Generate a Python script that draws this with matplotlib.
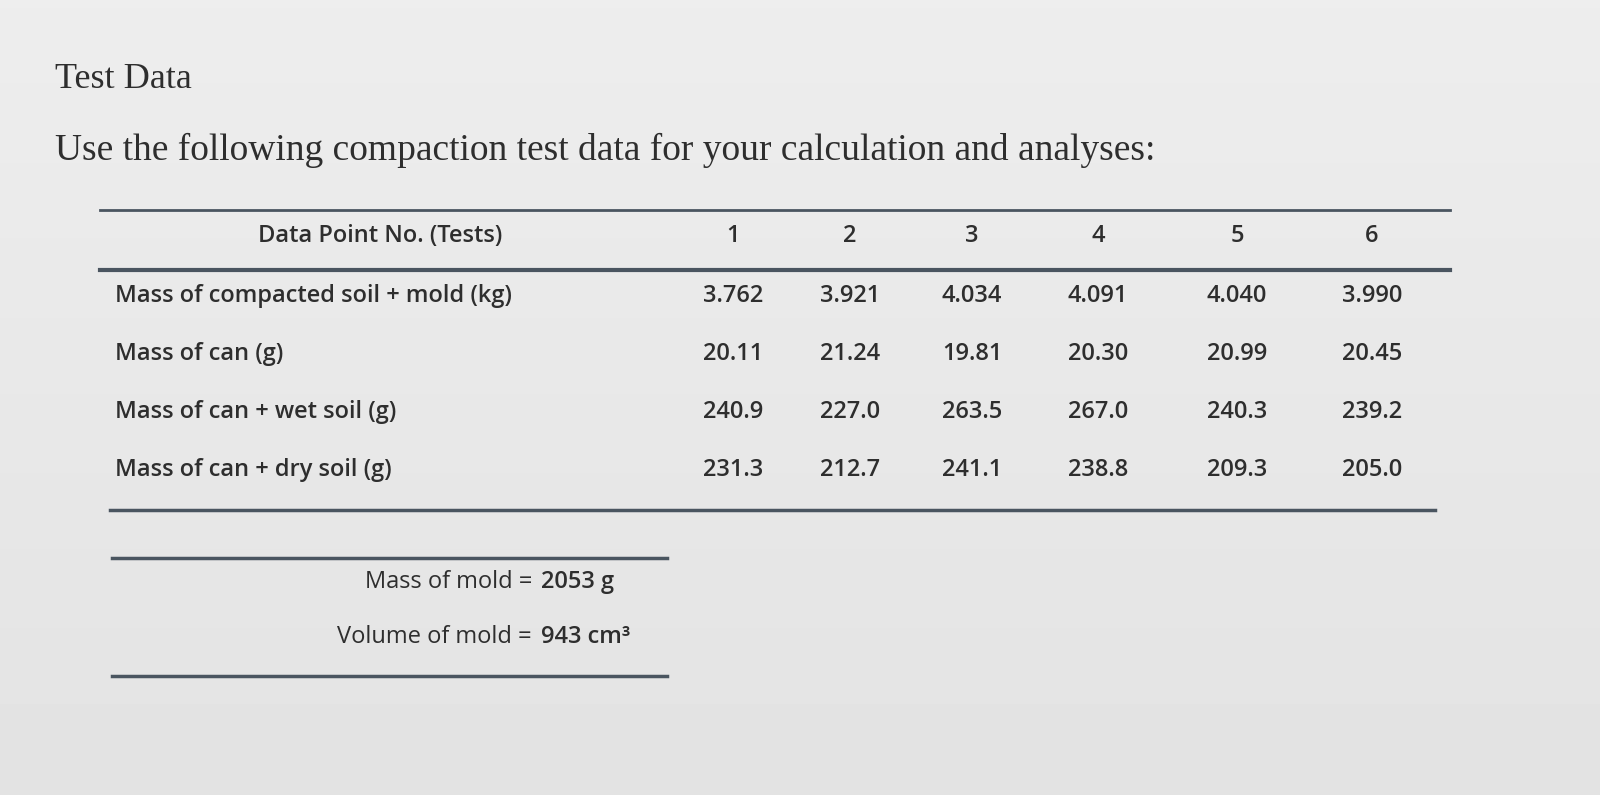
import matplotlib
matplotlib.use("Agg")
import matplotlib.pyplot as plt
import numpy as np

# ── Table data ───────────────────────────────────────────────────
TESTS       = ["1", "2", "3", "4", "5", "6"]
ROW_LABELS  = ["Mass of compacted soil + mold (kg)", "Mass of can (g)",
               "Mass of can + wet soil (g)", "Mass of can + dry soil (g)"]
SOIL_MOLD   = ["3.762", "3.921", "4.034", "4.091", "4.040", "3.990"]
CAN         = ["20.11", "21.24", "19.81", "20.30", "20.99", "20.45"]
CAN_WET     = ["240.9", "227.0", "263.5", "267.0", "240.3", "239.2"]
CAN_DRY     = ["231.3", "212.7", "241.1", "238.8", "209.3", "205.0"]
MOLD_LABELS = ["Mass of mold =", "Volume of mold ="]
MOLD_VALUES = ["2053 g", "943 cm³"]

fig = plt.figure(figsize=(16, 7.95), dpi=100)
ax = fig.add_axes([0, 0, 1, 1])
ax.set_xlim(0, 1600)
ax.set_ylim(795, 0)
ax.axis("off")

# faint photographic background
grad = np.linspace(0.93, 0.89, 200).reshape(-1, 1)
ax.imshow(grad, cmap="gray", vmin=0, vmax=1, extent=[0, 1600, 795, 0], aspect="auto")

sans = "Open Sans"
ink = "#2e2e2e"
fs = 17

ax.text(55, 80, "Test Data", family=["Liberation Serif"], fontsize=26, color=ink, va="center")
ax.text(55, 150, "Use the following compaction test data for your calculation and analyses:",
        family=["Liberation Serif"], fontsize=27, color=ink, va="center")

col_x = [733, 850, 972, 1098, 1237, 1372]
line_c = "#4a5560"

ax.plot([100, 1450], [210, 210], color=line_c, lw=2)
ax.plot([100, 1450], [270, 270], color=line_c, lw=3)
ax.plot([110, 1435], [510, 510], color=line_c, lw=2.5)

ax.text(380, 236, "Data Point No. (Tests)", family=sans, fontsize=fs, color=ink,
        ha="center", va="center", fontweight="semibold")
for x, t in zip(col_x, TESTS):
    ax.text(x, 236, t, family=sans, fontsize=fs, color=ink, ha="center", va="center",
            fontweight="semibold")

row_y = [296, 354, 412, 470]
for y, lab, vals in zip(row_y, ROW_LABELS, [SOIL_MOLD, CAN, CAN_WET, CAN_DRY]):
    ax.text(115, y, lab, family=sans, fontsize=fs, color=ink, va="center",
            fontweight="semibold")
    for x, v in zip(col_x, vals):
        ax.text(x, y, v, family=sans, fontsize=fs, color=ink, ha="center", va="center",
                fontweight="semibold")

ax.plot([112, 667], [558, 558], color=line_c, lw=2.5)
ax.plot([112, 667], [676, 676], color=line_c, lw=2.5)
for y, lab, val in zip([582, 637], MOLD_LABELS, MOLD_VALUES):
    ax.text(532, y, lab, family=sans, fontsize=fs, color=ink, ha="right", va="center")
    ax.text(541, y, val, family=sans, fontsize=fs, color=ink, ha="left", va="center",
            fontweight="semibold")

fig.savefig("out.png", dpi=100)
